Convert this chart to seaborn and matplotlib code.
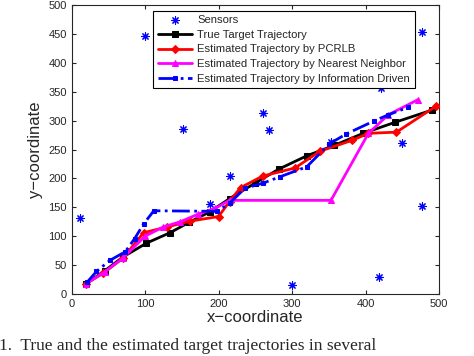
import matplotlib
matplotlib.use("Agg")
import matplotlib.pyplot as plt
import seaborn as sns
import pandas as pd

sensor_x = [100, 152, 215, 12, 188, 477, 261, 269, 421, 353, 450, 477, 419, 300]
sensor_y = [446, 286, 204, 131, 155, 454, 313, 284, 356, 263, 261, 152, 29, 16]

true_x = [20, 45, 70, 102, 134, 160, 188, 215, 250, 282, 320, 357, 397, 440, 490]
true_y = [18, 40, 64, 88, 106, 124, 142, 165, 192, 216, 239, 257, 278, 297, 318]

pcrlb_x = [20, 43, 70, 98, 130, 161, 200, 215, 230, 260, 304, 338, 382, 404, 442, 496]
pcrlb_y = [18, 36, 62, 106, 116, 126, 134, 160, 184, 204, 218, 247, 266, 278, 280, 325]

nn_x = [20, 45, 70, 100, 125, 148, 172, 195, 215, 353, 404, 431, 471]
nn_y = [18, 38, 62, 100, 116, 125, 138, 148, 162, 162, 278, 310, 336]

info_x = [21, 34, 52, 73, 86, 98, 112, 198, 215, 236, 261, 284, 320, 351, 374, 411, 431, 458]
info_y = [20, 39, 58, 73, 96, 121, 144, 143, 157, 183, 192, 203, 220, 260, 277, 299, 310, 323]

labels = ["Sensors", "True Target Trajectory", "Estimated Trajectory by PCRLB",
          "Estimated Trajectory by Nearest Neighbor", "Estimated Trajectory by Information Driven"]

sns.set_style("ticks")
plt.rcParams['font.family'] = ['Liberation Sans', 'DejaVu Sans']

fig = plt.figure(figsize=(4.74, 3.56), dpi=100)
ax = fig.add_axes([71.5/474, 1-294/356, (439-71.5)/474, (294-5)/356])

sns.scatterplot(x=sensor_x, y=sensor_y, ax=ax, marker=(8, 2, 0), s=28,
                color="#0000ff", linewidth=0.8, edgecolor="#0000ff", label=labels[0], zorder=3)

def line(xs, ys, color, marker, ms, ls, label, z):
    df = pd.DataFrame({"x": xs, "y": ys})
    sns.lineplot(data=df, x="x", y="y", sort=False, estimator=None, ax=ax,
                 color=color, marker=marker, markersize=ms, linewidth=2,
                 linestyle=ls, markeredgecolor=color, label=label, zorder=z)

line(true_x, true_y, "black", "s", 4.5, "-", labels[1], 4)
line(pcrlb_x, pcrlb_y, "#ff0000", "D", 4.5, "-", labels[2], 5)
line(nn_x, nn_y, "#ff00ff", "^", 5, "-", labels[3], 6)
line(info_x, info_y, "#0000ff", "s", 3.5, "-.", labels[4], 7)

ax.set_xlim(0, 500)
ax.set_ylim(0, 500)
ax.set_xticks(range(0, 501, 100))
ax.set_yticks(range(0, 501, 50))
ax.tick_params(direction="in", top=True, right=True, labelsize=8, length=3, width=0.8)
for s in ax.spines.values():
    s.set_linewidth(0.8)
    s.set_visible(True)
ax.set_xlabel("x\u2212coordinate", fontsize=12, labelpad=1)
ax.set_ylabel("y\u2212coordinate", fontsize=12, labelpad=4)

leg = ax.legend(loc="upper left", bbox_to_anchor=(81.5/367.5, 1 - 5.5/289), fontsize=8.1,
                frameon=True, fancybox=False, edgecolor="black", framealpha=1,
                borderpad=0.4, labelspacing=0.42, handlelength=3.1, handletextpad=0.45,
                borderaxespad=0)
leg.get_frame().set_linewidth(0.8)

fig.text(-0.003, 1 - 354/356, "1.  True and the estimated target trajectories in several",
         fontsize=12.5, family=["Liberation Serif", "DejaVu Serif"], va="bottom", ha="left")

fig.savefig("out.png", dpi=100)
